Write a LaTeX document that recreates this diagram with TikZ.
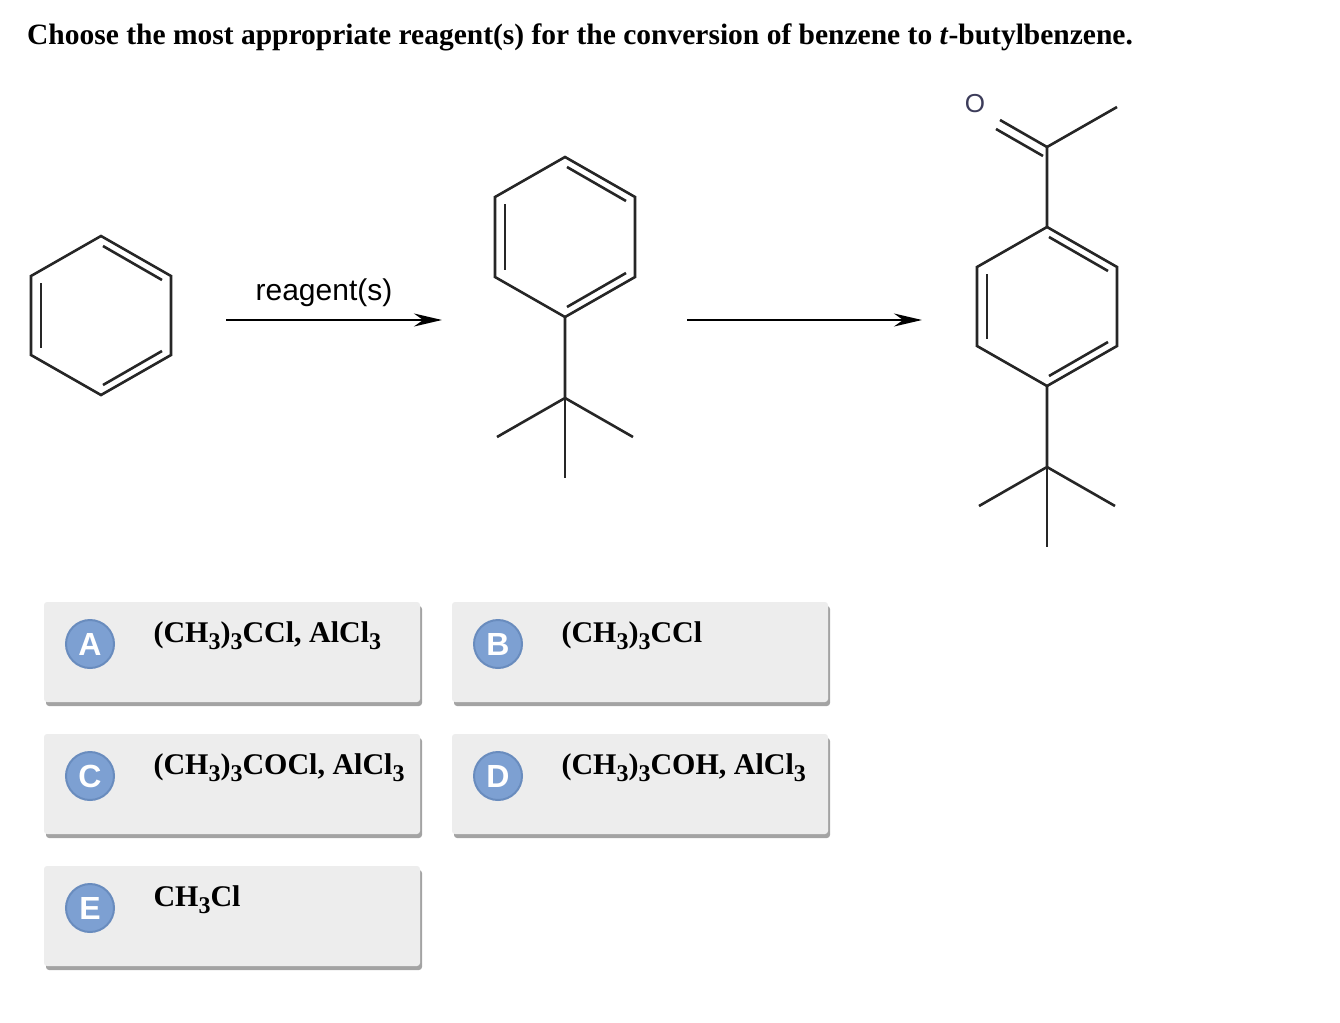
\documentclass[tikz,border=0pt]{standalone}
\usepackage{fontspec}
\setmainfont{Liberation Serif}
\newfontfamily\arialf{Liberation Sans}
\usetikzlibrary{shadows,arrows.meta}
\newcommand{\sbs}[1]{\raisebox{-7pt}{\fontsize{24}{24}\selectfont #1}}
\begin{document}
\begin{tikzpicture}[x=1pt,y=-1pt,
  bond/.style={line width=2.6pt,draw=black!85},
  optbox/.style={fill=black!7,rounded corners=3pt,drop shadow={shadow xshift=2pt,shadow yshift=-4pt,opacity=0.6,fill=black!60},minimum width=376pt,minimum height=100pt,inner sep=0pt},
  badge/.style={circle,fill={rgb,255:red,125;green,160;blue,210},draw={rgb,255:red,105;green,140;blue,190},line width=2pt,minimum size=48pt,inner sep=0pt,text=white,font=\arialf\bfseries\fontsize{32}{32}\selectfont},
  opttext/.style={anchor=west,font=\bfseries\fontsize{30}{32}\selectfont},
  arr/.style={line width=2.4pt,-{Stealth[length=28pt,width=13pt]}}]
\useasboundingbox (0,0) rectangle (1340,1022);
\node[anchor=west,inner sep=0pt,font=\bfseries\fontsize{29.5}{32}\selectfont] (title) at (27,37) {Choose the most appropriate reagent(s) for the conversion of benzene to \textit{t}-butylbenzene.};
% benzene 1
\draw[bond] (101,236)--(171,276)--(171,355)--(101,395)--(31,355)--(31,276)--cycle;
\draw[bond] (103,246)--(162,280); \draw[bond] (41,283)--(41,348); \draw[bond] (103,385)--(162,351);
% arrow 1
\coordinate (a1) at (226,320); \coordinate (a2) at (442,320);
\draw[arr] (a1)--(a2);
\node[font=\arialf\fontsize{30}{30}\selectfont] (rg) at (324,293) {reagent(s)};
% t-butylbenzene
\draw[bond] (565,157)--(635,197)--(635,277)--(565,317)--(495,277)--(495,197)--cycle;
\draw[bond] (567,167)--(626,201); \draw[bond] (505,204)--(505,270); \draw[bond] (567,307)--(626,273);
\draw[bond] (565,317)--(565,398)--(497,437); \draw[bond] (565,398)--(633,437); \draw[bond] (565,398)--(565,478);
% arrow 2
\coordinate (b1) at (687,320); \coordinate (b2) at (922,320);
\draw[arr] (b1)--(b2);
% product
\draw[bond] (1047,227)--(1117,267)--(1117,346)--(1047,386)--(977,346)--(977,267)--cycle;
\draw[bond] (1049,237)--(1108,271); \draw[bond] (987,274)--(987,339); \draw[bond] (1049,376)--(1108,342);
\draw[bond] (1047,227)--(1047,147)--(1117,107);
\draw[bond] (1047,147)--(1000,120); \draw[bond] (1043,156)--(996,129);
\node[text={rgb,255:red,60;green,60;blue,90},font=\arialf\fontsize{26}{26}\selectfont] (O) at (975,104) {O};
\draw[bond] (1047,386)--(1047,467)--(979,506); \draw[bond] (1047,467)--(1115,506); \draw[bond] (1047,467)--(1047,547);
% options
\node[optbox] (bA) at (232,652) {}; \node[optbox] (bB) at (640,652) {};
\node[optbox] (bC) at (232,784) {}; \node[optbox] (bD) at (640,784) {};
\node[optbox] (bE) at (232,916) {};
\node[badge] (cA) at (90,644) {A}; \node[opttext] (tA) at (150,636) {(CH\sbs{3})\sbs{3}CCl, AlCl\sbs{3}};
\node[badge] (cB) at (498,644) {B}; \node[opttext] (tB) at (558,636) {(CH\sbs{3})\sbs{3}CCl};
\node[badge] (cC) at (90,776) {C}; \node[opttext] (tC) at (150,768) {(CH\sbs{3})\sbs{3}COCl, AlCl\sbs{3}};
\node[badge] (cD) at (498,776) {D}; \node[opttext] (tD) at (558,768) {(CH\sbs{3})\sbs{3}COH, AlCl\sbs{3}};
\node[badge] (cE) at (90,908) {E}; \node[opttext] (tE) at (150,900) {CH\sbs{3}Cl};
\end{tikzpicture}
\end{document}
